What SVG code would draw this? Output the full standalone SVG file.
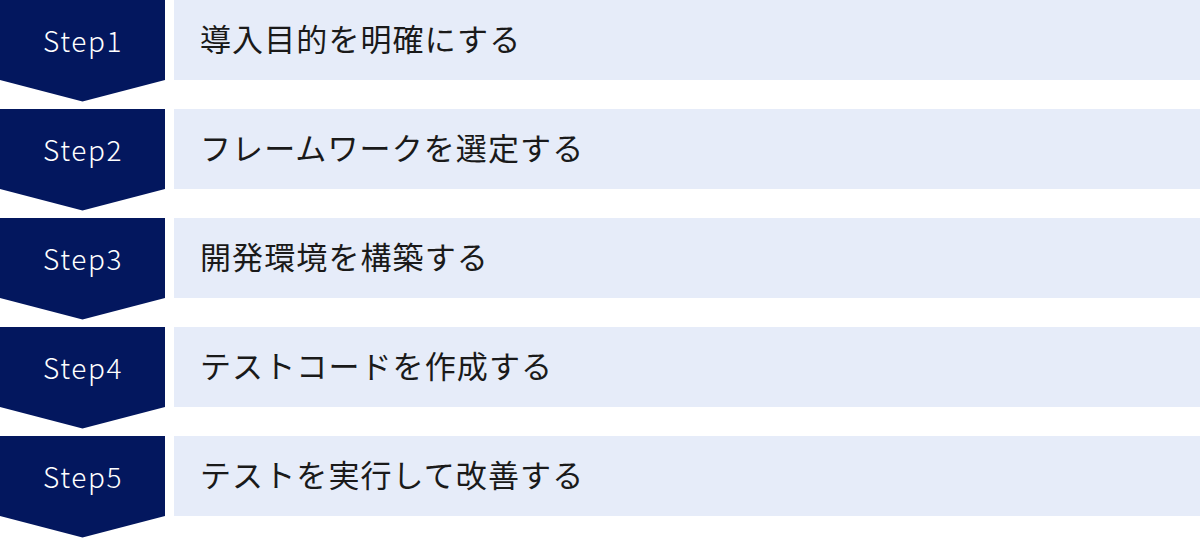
<svg xmlns="http://www.w3.org/2000/svg" width="1200" height="538" viewBox="0 0 1200 538">
<defs>
<style>
.bg{fill:#ffffff}
.tag{fill:#03175e}
.box{fill:#e6ecf9}
.st{font-family:"Noto Sans CJK JP","Noto Sans",sans-serif;font-size:28px;font-weight:300;fill:#ffffff;text-anchor:middle;letter-spacing:1.6px}
.lb{font-family:"Noto Sans CJK JP","Noto Sans CJK SC",sans-serif;font-size:31px;fill:#1a1a1a;letter-spacing:1.1px}
</style>
<polygon id="chev" points="0,0 165,0 165,80 82.5,101.5 0,80"/>
</defs>
<rect class="bg" x="0" y="0" width="1200" height="538"/>
<g id="step1" transform="translate(0,0)">
<use href="#chev" class="tag"/>
<rect class="box" x="174" y="0" width="1026" height="80"/>
<text class="st" x="83" y="52">Step1</text>
<text class="lb" x="200" y="51">導入目的を明確にする</text>
</g>
<g id="step2" transform="translate(0,109)">
<use href="#chev" class="tag"/>
<rect class="box" x="174" y="0" width="1026" height="80"/>
<text class="st" x="83" y="52">Step2</text>
<text class="lb" x="200" y="51">フレームワークを選定する</text>
</g>
<g id="step3" transform="translate(0,218)">
<use href="#chev" class="tag"/>
<rect class="box" x="174" y="0" width="1026" height="80"/>
<text class="st" x="83" y="52">Step3</text>
<text class="lb" x="200" y="51">開発環境を構築する</text>
</g>
<g id="step4" transform="translate(0,327)">
<use href="#chev" class="tag"/>
<rect class="box" x="174" y="0" width="1026" height="80"/>
<text class="st" x="83" y="52">Step4</text>
<text class="lb" x="200" y="51">テストコードを作成する</text>
</g>
<g id="step5" transform="translate(0,436)">
<use href="#chev" class="tag"/>
<rect class="box" x="174" y="0" width="1026" height="80"/>
<text class="st" x="83" y="52">Step5</text>
<text class="lb" x="200" y="51">テストを実行して改善する</text>
</g>
<g id="connectors"></g>
</svg>
